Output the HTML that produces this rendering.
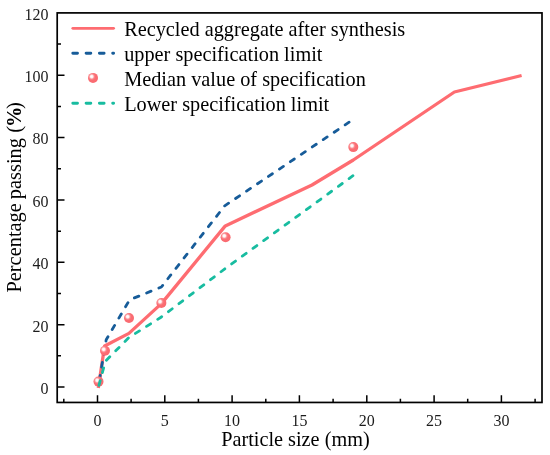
<!DOCTYPE html>
<html><head><meta charset="utf-8"><title>Chart</title>
<style>
html,body{margin:0;padding:0;background:#fff}
svg{display:block}
text{font-family:"Liberation Serif","Noto Serif CJK SC",serif;fill:#000}
.lg{font-size:20.3px}
.tk{font-size:16px;fill:#1c1c1c}
.ax{font-size:20.4px}
</style></head><body>
<svg width="550" height="455" viewBox="0 0 550 455">
<defs><radialGradient id="g" cx="0.38" cy="0.38" r="0.62" fx="0.36" fy="0.36"><stop offset="0" stop-color="#ffffff"/><stop offset="0.2" stop-color="#fff4f4"/><stop offset="0.42" stop-color="#fb8a8f"/><stop offset="0.6" stop-color="#fa6d73"/><stop offset="1" stop-color="#fa6a70"/></radialGradient></defs>
<rect width="550" height="455" fill="#fff"/>
<path d="M57.2,387.0h7.3 M57.2,324.7h7.3 M57.2,262.3h7.3 M57.2,200.0h7.3 M57.2,137.6h7.3 M57.2,75.3h7.3 M57.2,355.8h3.8 M57.2,293.5h3.8 M57.2,231.2h3.8 M57.2,168.8h3.8 M57.2,106.5h3.8 M57.2,44.1h3.8 M97.5,402.45v-7.3 M164.8,402.45v-7.3 M232.1,402.45v-7.3 M299.4,402.45v-7.3 M366.8,402.45v-7.3 M434.1,402.45v-7.3 M501.4,402.45v-7.3 M63.8,402.45v-3.8 M131.1,402.45v-3.8 M198.4,402.45v-3.8 M265.8,402.45v-3.8 M333.1,402.45v-3.8 M400.4,402.45v-3.8 M467.7,402.45v-3.8 M535.1,402.45v-3.8" stroke="#000" stroke-width="1.5" fill="none"/>
<polyline points="98.3,388.0 104.6,346.0 128.9,333.4 161.4,303.6 225.3,225.9 312.0,185.0 353.3,160.0 454.4,92.0 521.6,75.5" fill="none" stroke="#fe6c71" stroke-width="3.3" stroke-linejoin="round" stroke-linecap="butt"/>
<polyline points="98.3,386.5 106.2,339.8 129.6,299.8 161.4,287.0 224.7,205.8 353.3,119.4" fill="none" stroke="#175c99" stroke-width="2.8" stroke-dasharray="4.8 8.4" stroke-dashoffset="6.75" stroke-linecap="round" stroke-linejoin="round"/>
<circle cx="98.5" cy="381.6" r="5" fill="url(#g)"/>
<circle cx="105.0" cy="350.7" r="5" fill="url(#g)"/>
<circle cx="129.0" cy="318.0" r="5" fill="url(#g)"/>
<circle cx="161.4" cy="303.0" r="5" fill="url(#g)"/>
<circle cx="225.6" cy="237.2" r="5" fill="url(#g)"/>
<circle cx="353.3" cy="147.1" r="5" fill="url(#g)"/>
<polyline points="98.8,386.0 105.4,361.2 128.8,337.6 161.4,317.0 225.3,268.5 353.3,175.5" fill="none" stroke="#18bca0" stroke-width="2.8" stroke-dasharray="4.8 8.4" stroke-dashoffset="-0.7" stroke-linecap="round" stroke-linejoin="round"/>
<rect x="57.2" y="12.9" width="484.8" height="389.55" fill="none" stroke="#000" stroke-width="1.7"/>
<line x1="72.8" x2="113.6" y1="28.3" y2="28.3" stroke="#fe6c71" stroke-width="2.8" stroke-linecap="round"/>
<line x1="72.8" x2="113.6" y1="53.3" y2="53.3" stroke="#175c99" stroke-width="2.9" stroke-dasharray="4.7 8.6" stroke-linecap="round"/>
<circle cx="93.0" cy="77.89999999999999" r="5" fill="url(#g)"/>
<line x1="72.8" x2="113.6" y1="103.3" y2="103.3" stroke="#18bca0" stroke-width="2.9" stroke-dasharray="4.7 8.6" stroke-linecap="round"/>
<text class="lg" x="124.2" y="35.6">Recycled aggregate after synthesis</text>
<text class="lg" x="124.2" y="60.6">upper specification limit</text>
<text class="lg" x="124.2" y="85.6">Median value of specification</text>
<text class="lg" x="124.2" y="110.6">Lower specification limit</text>
<text class="tk" text-anchor="end" transform="translate(48.6,393.8) scale(1,1.05)">0</text>
<text class="tk" text-anchor="end" transform="translate(48.6,331.5) scale(1,1.05)">20</text>
<text class="tk" text-anchor="end" transform="translate(48.6,269.1) scale(1,1.05)">40</text>
<text class="tk" text-anchor="end" transform="translate(48.6,206.8) scale(1,1.05)">60</text>
<text class="tk" text-anchor="end" transform="translate(48.6,144.4) scale(1,1.05)">80</text>
<text class="tk" text-anchor="end" transform="translate(48.6,82.1) scale(1,1.05)">100</text>
<text class="tk" text-anchor="end" transform="translate(48.6,19.8) scale(1,1.05)">120</text>
<text class="tk" text-anchor="middle" transform="translate(97.5,425.5) scale(1,1.05)">0</text>
<text class="tk" text-anchor="middle" transform="translate(164.8,425.5) scale(1,1.05)">5</text>
<text class="tk" text-anchor="middle" transform="translate(232.1,425.5) scale(1,1.05)">10</text>
<text class="tk" text-anchor="middle" transform="translate(299.4,425.5) scale(1,1.05)">15</text>
<text class="tk" text-anchor="middle" transform="translate(366.8,425.5) scale(1,1.05)">20</text>
<text class="tk" text-anchor="middle" transform="translate(434.1,425.5) scale(1,1.05)">25</text>
<text class="tk" text-anchor="middle" transform="translate(501.4,425.5) scale(1,1.05)">30</text>
<text class="ax" x="221.2" y="445.9" style="font-size:20.25px">Particle size (mm)</text>
<g transform="translate(20.8,0)">
<text class="ax" transform="translate(0,292.6) rotate(-90)">Percentage</text>
<text class="ax" transform="translate(0,199.2) rotate(-90)">passing</text>
<text class="ax" transform="translate(0,132.8) rotate(-90)">(</text>
<text class="ax" transform="translate(0,127.1) rotate(-90)" font-weight="bold">%</text>
<text class="ax" transform="translate(0,109.0) rotate(-90)">)</text>
</g>
</svg>
</body></html>
